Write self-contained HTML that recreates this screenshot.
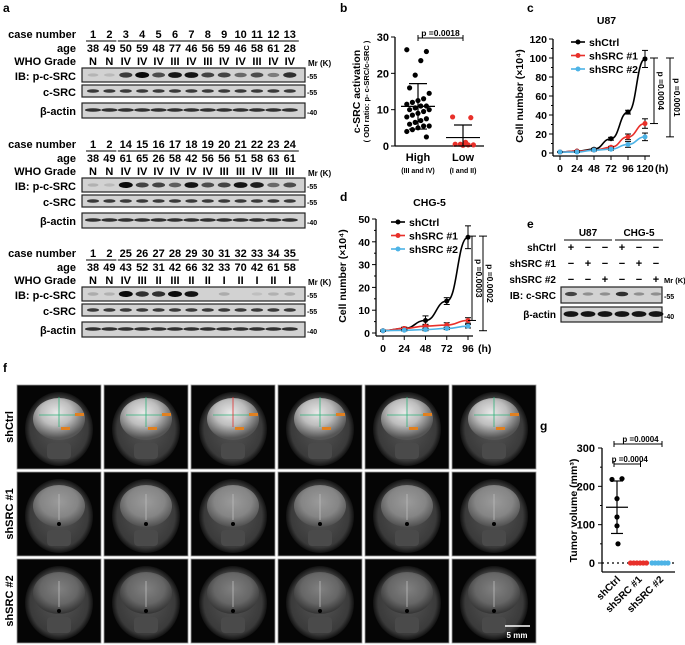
<!DOCTYPE html>
<html><head><meta charset="utf-8"><style>
html,body{margin:0;padding:0;background:#fff}
svg{display:block;font-family:"Liberation Sans",Arial,sans-serif}
text{font-weight:bold}
</style></head><body>
<svg id="fig" width="685" height="645" viewBox="0 0 685 645" xmlns="http://www.w3.org/2000/svg">
<defs>
<radialGradient id="brainHot" cx="0.45" cy="0.35" r="0.6"><stop offset="0" stop-color="#e8e8e8"/><stop offset="0.5" stop-color="#bdbdbd"/><stop offset="1" stop-color="#555"/></radialGradient>
<radialGradient id="brain1" cx="0.5" cy="0.4" r="0.6"><stop offset="0" stop-color="#9a9a9a"/><stop offset="0.6" stop-color="#858585"/><stop offset="1" stop-color="#505050"/></radialGradient>
<radialGradient id="brain2" cx="0.5" cy="0.4" r="0.6"><stop offset="0" stop-color="#808080"/><stop offset="0.6" stop-color="#666"/><stop offset="1" stop-color="#333"/></radialGradient>
<radialGradient id="head" cx="0.5" cy="0.5" r="0.5"><stop offset="0" stop-color="#555"/><stop offset="0.85" stop-color="#3a3a3a"/><stop offset="1" stop-color="#111"/></radialGradient>
</defs>
<g id="panelA"></g>
<g id="panelB"></g>
<g id="panelC"></g>
<g id="panelD"></g>
<g id="panelE"></g>
<g id="panelF"></g>
<g id="panelG"></g>
</svg>
<script>
const NS="http://www.w3.org/2000/svg";
function mk(parent,tag,attrs,txt){const e=document.createElementNS(NS,tag);for(const k in attrs)e.setAttribute(k,attrs[k]);if(txt!==undefined)e.textContent=txt;parent.appendChild(e);return e;}

// ---------- Panel A data ----------
const caseNums1=["1","2","3","4","5","6","7","8","9","10","11","12","13"];
const ages1=["38","49","50","59","48","77","46","56","59","46","58","61","28"];
const grades1=["N","N","IV","IV","IV","III","IV","III","IV","IV","III","IV","IV"];
const pSrc1=[0.1,0.08,0.75,1,0.65,0.95,0.95,0.7,0.7,0.5,0.65,0.4,0.8];
const caseNums2=["1","2","14","15","16","17","18","19","20","21","22","23","24"];
const ages2=["38","49","61","65","26","58","42","56","56","51","58","63","61"];
const grades2=["N","N","IV","IV","IV","IV","IV","IV","III","III","IV","III","III"];
const pSrc2=[0.12,0.08,1,0.7,0.7,0.55,0.95,0.65,0.7,0.95,0.9,0.5,0.65];
const caseNums3=["1","2","25","26","27","28","29","30","31","32","33","34","35"];
const ages3=["38","49","43","52","31","42","66","32","33","70","42","61","58"];
const grades3=["N","N","IV","III","II","III","II","II","I","II","I","II","I"];
const pSrc3=[0.15,0.12,1,0.8,0.8,1,0.95,0.02,0.15,0.02,0.05,0.12,0.15];

const A=document.getElementById('panelA');
mk(A,'text',{x:3,y:12,'font-size':12},'a');
function band(g,cx,cy,w,h,int){
  if(int<=0.03)return;
  const c=Math.round(200-190*int);
  const b=mk(g,'ellipse',{cx:cx,cy:cy,rx:w/2*(0.75+0.25*int),ry:h/2*(0.5+0.5*int),fill:`rgb(${c},${c},${c})`});
  
  
}
function blotBox(g,x,y,w,h,name){
  const r=mk(g,'rect',{x:x,y:y,width:w,height:h,fill:'#d2d2d2',stroke:'#222','stroke-width':1.2});
  
  
}
function blockA(y0,cases,ages,grades,pint){
  const g=mk(A,'g',{});
  
  
  const cx=i=>93+i*16.4;
  const fs=11;
  mk(g,'text',{x:76,y:y0+38,'text-anchor':'end','font-size':fs},'case number');
  mk(g,'text',{x:76,y:y0+52,'text-anchor':'end','font-size':fs},'age');
  mk(g,'text',{x:76,y:y0+65,'text-anchor':'end','font-size':fs},'WHO Grade');
  mk(g,'text',{x:76,y:y0+80,'text-anchor':'end','font-size':fs},'IB: p-c-SRC');
  mk(g,'text',{x:76,y:y0+96,'text-anchor':'end','font-size':fs},'c-SRC');
  mk(g,'text',{x:76,y:y0+115,'text-anchor':'end','font-size':fs},'β-actin');
  cases.forEach((c,i)=>{
    mk(g,'text',{x:cx(i),y:y0+38,'text-anchor':'middle','font-size':fs},c);
    mk(g,'text',{x:cx(i),y:y0+52,'text-anchor':'middle','font-size':fs},ages[i]);
    mk(g,'text',{x:cx(i),y:y0+65,'text-anchor':'middle','font-size':fs},grades[i]);
  });
  mk(g,'line',{x1:cx(0)-7,x2:cx(1)+7,y1:y0+41,y2:y0+41,stroke:'#000','stroke-width':1});
  mk(g,'line',{x1:cx(2)-8,x2:cx(12)+9,y1:y0+41,y2:y0+41,stroke:'#000','stroke-width':1});
  mk(g,'text',{x:308,y:y0+66,'font-size':8},'Mr (K)');
  blotBox(g,82,y0+68,223,14,'p-c-src-blot');
  blotBox(g,82,y0+85,223,12,'c-src-blot');
  blotBox(g,82,y0+103,223,15,'beta-actin-blot');
  cases.forEach((c,i)=>{
    band(g,cx(i),y0+75,14,6,pint[i]);
    band(g,cx(i),y0+91,13,4,0.75);
    band(g,cx(i),y0+110,17,4,0.8);
  });
  mk(g,'text',{x:307,y:y0+79,'font-size':7},'-55');
  mk(g,'text',{x:307,y:y0+95,'font-size':7},'-55');
  mk(g,'text',{x:307,y:y0+115,'font-size':7},'-40');
}
blockA(0,caseNums1,ages1,grades1,pSrc1);
blockA(110,caseNums2,ages2,grades2,pSrc2);
blockA(219,caseNums3,ages3,grades3,pSrc3);

// ---------- Panel B ----------
const bHigh=[26.5,26,23.5,19.5,16,14.5,13,12.5,12,11.5,11,11,10.5,10,10,9.5,9,8.5,8,7.5,7,6.5,6,5.5,5.5,5,4.5,4,2.5];
const bLow=[8,7.8,1,0.5,0.5,0.3,0.3,0.2];
const bTicks=[0,10,20,30];
const B=document.getElementById('panelB');
mk(B,'text',{x:340,y:12,'font-size':12},'b');
const bx0=395,by0=146,byTop=37;
const bY=v=>by0-(v/30)*(by0-byTop);
mk(B,'line',{x1:bx0,x2:bx0,y1:byTop,y2:by0,stroke:'#000','stroke-width':1.3});
mk(B,'line',{x1:bx0,x2:484,y1:by0,y2:by0,stroke:'#000','stroke-width':1.3});
bTicks.forEach(t=>{mk(B,'line',{x1:bx0-4,x2:bx0,y1:bY(t),y2:bY(t),stroke:'#000'});mk(B,'text',{x:bx0-6,y:bY(t)+4,'text-anchor':'end','font-size':11},t);});
mk(B,'text',{x:0,y:0,'font-size':10.5,'text-anchor':'middle',transform:`translate(360,${(by0+byTop)/2}) rotate(-90)`},'c-SRC activation');
mk(B,'text',{x:0,y:0,'font-size':7.5,'text-anchor':'middle',transform:`translate(369,${(by0+byTop)/2}) rotate(-90)`},'( ODI ratio: p- c-SRC/c-SRC )');
const bxHigh=418,bxLow=463;
function scatter(g,vals,cx,col,yfn,name,spread){
  vals.forEach((v,i)=>{
    const off=((i*7)%9-4)*spread;
    const c=mk(g,'circle',{cx:cx+off,cy:yfn(v),r:2.6,fill:col});
    
    
  });
}
function meanSd(vals){const m=vals.reduce((a,b)=>a+b,0)/vals.length;const sd=Math.sqrt(vals.reduce((a,b)=>a+(b-m)*(b-m),0)/(vals.length-1));return [m,sd];}
scatter(B,bHigh,bxHigh,'#000',bY,'high-grade-point',2.8);
scatter(B,bLow,bxLow,'#e8302a',bY,'low-grade-point',2.6);
[[bHigh,bxHigh],[bLow,bxLow]].forEach(([v,x])=>{const [m,s]=meanSd(v);
  mk(B,'line',{x1:x-17,x2:x+17,y1:bY(m),y2:bY(m),stroke:'#000','stroke-width':1.2});
  mk(B,'line',{x1:x,x2:x,y1:bY(Math.max(0,m-s)),y2:bY(m+s),stroke:'#000','stroke-width':1.2});
  mk(B,'line',{x1:x-9,x2:x+9,y1:bY(m+s),y2:bY(m+s),stroke:'#000','stroke-width':1.2});
  mk(B,'line',{x1:x-9,x2:x+9,y1:bY(Math.max(0,m-s)),y2:bY(Math.max(0,m-s)),stroke:'#000','stroke-width':1.2});});
mk(B,'line',{x1:bxHigh,x2:bxLow,y1:38,y2:38,stroke:'#000'});
mk(B,'line',{x1:bxHigh,x2:bxHigh,y1:35,y2:41,stroke:'#000'});
mk(B,'line',{x1:bxLow,x2:bxLow,y1:35,y2:41,stroke:'#000'});
mk(B,'text',{x:(bxHigh+bxLow)/2,y:36,'text-anchor':'middle','font-size':8.5},'p =0.0018');
mk(B,'text',{x:bxHigh,y:161,'text-anchor':'middle','font-size':11},'High');
mk(B,'text',{x:bxLow,y:161,'text-anchor':'middle','font-size':11},'Low');
mk(B,'text',{x:bxHigh,y:173,'text-anchor':'middle','font-size':7},'(III and IV)');
mk(B,'text',{x:bxLow,y:173,'text-anchor':'middle','font-size':7},'(I and II)');

// ---------- Growth curves ----------
const cHours=[0,24,48,72,96,120];
const cCtrl=[1,2,4,15,43,99];
const cSh1=[1,2,3,6,17,31];
const cSh2=[1,1,3,4,9,17];
const cCtrlErr=[0.5,0.5,1,1.5,2,9];
const cSh1Err=[0.3,0.5,0.8,1,3,5];
const cSh2Err=[0.3,0.5,0.8,1,3,4];
const cTicks=[0,20,40,60,80,100,120];
const dHours=[0,24,48,72,96];
const dCtrl=[1,2,5.5,14,42];
const dSh1=[1,2,3,3.5,5.5];
const dSh2=[1,1.2,1.5,2,3];
const dCtrlErr=[0.3,0.5,2,1.5,5];
const dSh1Err=[0.3,0.5,0.8,1,1.2];
const dSh2Err=[0.3,0.3,0.5,0.5,0.8];
const dTicks=[0,10,20,30,40,50];
const COLS=['#000','#e8302a','#4db3e6'];
const NAMES=['shCtrl','shSRC #1','shSRC #2'];

function growth(G,o){
  const X=h=>o.x0+(h/o.hmax)*(o.x1-o.x0);
  const Y=v=>o.y0-(v/o.vmax)*(o.y0-o.yTop);
  mk(G,'text',{x:o.lx,y:o.ly,'font-size':12},o.letter);
  mk(G,'text',{x:(o.x0+o.x1)/2+4,y:o.titleY,'text-anchor':'middle','font-size':10.5},o.title);
  mk(G,'line',{x1:o.x0-7,x2:o.x0-7,y1:o.yTop,y2:o.y0+3,stroke:'#000','stroke-width':1.3});
  mk(G,'line',{x1:o.x0-7,x2:o.x1+5,y1:o.y0+3,y2:o.y0+3,stroke:'#000','stroke-width':1.3});
  o.ticks.forEach(t=>{mk(G,'line',{x1:o.x0-11,x2:o.x0-7,y1:Y(t),y2:Y(t),stroke:'#000'});mk(G,'text',{x:o.x0-13,y:Y(t)+4,'text-anchor':'end','font-size':10.5},t);});
  for(let i=0;i<o.ticks.length-1;i++){const m=(o.ticks[i]+o.ticks[i+1])/2;mk(G,'line',{x1:o.x0-9,x2:o.x0-7,y1:Y(m),y2:Y(m),stroke:'#000'});}
  o.hours.forEach(h=>{mk(G,'line',{x1:X(h),x2:X(h),y1:o.y0+3,y2:o.y0+7,stroke:'#000'});mk(G,'text',{x:X(h),y:o.y0+19,'text-anchor':'middle','font-size':10.5},h);});
  mk(G,'text',{x:o.x1+10,y:o.y0+19,'font-size':10.5},'(h)');
  mk(G,'text',{x:0,y:0,'font-size':10.5,'text-anchor':'middle',transform:`translate(${o.x0-37},${(o.y0+o.yTop)/2}) rotate(-90)`},'Cell number (×10⁴)');
  o.series.forEach((s,k)=>{
    const pts=o.hours.map((h,i)=>[X(h),Y(s[i])]);
    let d='M'+pts[0].join(',');
    for(let i=1;i<pts.length;i++){const p0=pts[i-1],p1=pts[i];const mx=(p0[0]+p1[0])/2;d+=` C${mx},${p0[1]} ${mx},${p1[1]} ${p1[0]},${p1[1]}`;}
    const line=mk(G,'path',{d:d,fill:'none',stroke:COLS[k],'stroke-width':1.6});
    
    
    o.hours.forEach((h,i)=>{
      const e=o.errs[k][i];
      mk(G,'line',{x1:X(h),x2:X(h),y1:Y(s[i]-e),y2:Y(s[i]+e),stroke:'#000'});
      mk(G,'line',{x1:X(h)-3,x2:X(h)+3,y1:Y(s[i]+e),y2:Y(s[i]+e),stroke:'#000'});
      mk(G,'line',{x1:X(h)-3,x2:X(h)+3,y1:Y(s[i]-e),y2:Y(s[i]-e),stroke:'#000'});
      const c=mk(G,'circle',{cx:X(h),cy:Y(s[i]),r:2.5,fill:COLS[k]});
      
      
    });
  });
  NAMES.forEach((n,k)=>{
    const ly=o.legY+k*13.5;
    mk(G,'line',{x1:o.legX,x2:o.legX+14,y1:ly,y2:ly,stroke:COLS[k],'stroke-width':1.6});
    mk(G,'circle',{cx:o.legX+7,cy:ly,r:2.5,fill:COLS[k]});
    const t=mk(G,'text',{x:o.legX+18,y:ly+4,'font-size':10.5},n);
    
    
  });
  o.pbars.forEach(pb=>{
    mk(G,'line',{x1:pb.x,x2:pb.x,y1:Y(pb.a),y2:Y(pb.b),stroke:'#000'});
    mk(G,'line',{x1:pb.x-4,x2:pb.x+4,y1:Y(pb.a),y2:Y(pb.a),stroke:'#000'});
    mk(G,'line',{x1:pb.x-4,x2:pb.x+4,y1:Y(pb.b),y2:Y(pb.b),stroke:'#000'});
    mk(G,'text',{x:0,y:0,'font-size':8.5,'text-anchor':'middle',transform:`translate(${pb.x+4},${(Y(pb.a)+Y(pb.b))/2}) rotate(90)`},pb.t);
  });
}
growth(document.getElementById('panelC'),{letter:'c',lx:527,ly:12,title:'U87',titleY:24,x0:560,x1:645,y0:153,yTop:39,hmax:120,vmax:120,hours:cHours,ticks:cTicks,series:[cCtrl,cSh1,cSh2],errs:[cCtrlErr,cSh1Err,cSh2Err],legX:571,legY:42,
  pbars:[{x:654,a:31,b:100,t:'p =0.0004'},{x:670,a:17,b:100,t:'p =0.0001'}]});
growth(document.getElementById('panelD'),{letter:'d',lx:340,ly:201,title:'CHG-5',titleY:206,x0:383,x1:468,y0:333,yTop:219,hmax:96,vmax:50,hours:dHours,ticks:dTicks,series:[dCtrl,dSh1,dSh2],errs:[dCtrlErr,dSh1Err,dSh2Err],legX:391,legY:222,
  pbars:[{x:472,a:5.5,b:42.5,t:'p =0.0003'},{x:483,a:1,b:42.5,t:'p =0.0002'}]});

// ---------- Panel E ----------
const eCtrl=['+','−','−','+','−','−'];
const eSh1=['−','+','−','−','+','−'];
const eSh2=['−','−','+','−','−','+'];
const eSrc=[0.7,0.3,0.3,0.8,0.3,0.3];
const E=document.getElementById('panelE');
mk(E,'text',{x:527,y:228,'font-size':12},'e');
const ex=i=>571+i*17;
mk(E,'text',{x:(ex(0)+ex(2))/2,y:236,'text-anchor':'middle','font-size':10},'U87');
mk(E,'text',{x:(ex(3)+ex(5))/2,y:236,'text-anchor':'middle','font-size':10},'CHG-5');
mk(E,'line',{x1:ex(0)-7,x2:ex(2)+7,y1:240,y2:240,stroke:'#000'});
mk(E,'line',{x1:ex(3)-7,x2:ex(5)+7,y1:240,y2:240,stroke:'#000'});
[['shCtrl',eCtrl,251],['shSRC #1',eSh1,267],['shSRC #2',eSh2,283]].forEach(([n,arr,y])=>{
  mk(E,'text',{x:556,y:y,'text-anchor':'end','font-size':10},n);
  arr.forEach((s,i)=>mk(E,'text',{x:ex(i),y:y,'text-anchor':'middle','font-size':11},s));
});
mk(E,'text',{x:664,y:283,'font-size':7.5},'Mr (K)');
mk(E,'text',{x:556,y:299,'text-anchor':'end','font-size':10},'IB: c-SRC');
mk(E,'text',{x:556,y:318,'text-anchor':'end','font-size':10},'β-actin');
blotBox(E,561,287,101,16,'c-src-knockdown-blot');
blotBox(E,561,307,101,15,'beta-actin-e-blot');
eSrc.forEach((v,i)=>{band(E,ex(i),294,13,5,v);band(E,ex(i),314,15,6,0.95);});
mk(E,'text',{x:664,y:299,'font-size':7},'-55');
mk(E,'text',{x:664,y:319,'font-size':7},'-40');

// ---------- Panel F ----------
const F=document.getElementById('panelF');
mk(F,'text',{x:3,y:372,'font-size':12},'f');
const rowLabels=['shCtrl','shSRC #1','shSRC #2'];
const rowY=[385,472,559];
const grads=['url(#brainHot)','url(#brain1)','url(#brain2)'];
rowLabels.forEach((l,r)=>{
  mk(F,'text',{x:0,y:0,'font-size':11,'text-anchor':'middle',transform:`translate(13,${rowY[r]+42}) rotate(-90)`},l);
  for(let c=0;c<6;c++){
    const x=17+c*87,y=rowY[r];
    const g=mk(F,'g',{});
    
    
    mk(g,'rect',{x:x,y:y,width:84,height:84,fill:'#050505',stroke:'#999','stroke-width':0.8});
    mk(g,'ellipse',{cx:x+42,cy:y+44,rx:34,ry:37,fill:'url(#head)'});
    mk(g,'ellipse',{cx:x+42,cy:y+34,rx:26,ry:21,fill:grads[r]});
    mk(g,'rect',{x:x+30,y:y+58,width:24,height:16,fill:'#4a4a4a',rx:4});
    if(r===0){
      mk(g,'line',{x1:x+22,x2:x+62,y1:y+30,y2:y+30,stroke:'#2fb27a','stroke-width':0.8});
      mk(g,'line',{x1:x+42,x2:x+42,y1:y+12,y2:y+42,stroke:c===2?'#e03030':'#2fb27a','stroke-width':0.8});
      mk(g,'rect',{x:x+58,y:y+28,width:9,height:3,fill:'#e08020'});
      mk(g,'rect',{x:x+44,y:y+42,width:9,height:3,fill:'#e08020'});
    } else {
      mk(g,'line',{x1:x+42,x2:x+42,y1:y+22,y2:y+48,stroke:'#bbb','stroke-width':0.8});
      mk(g,'circle',{cx:x+42,cy:y+52,r:2,fill:'#000'});
    }
  }
});
mk(F,'line',{x1:505,x2:530,y1:626,y2:626,stroke:'#fff','stroke-width':1.5});
mk(F,'text',{x:517,y:638,'text-anchor':'middle','font-size':8,fill:'#fff'},'5 mm');

// ---------- Panel G ----------
const gCats=['shCtrl','shSRC #1','shSRC #2'];
const gCtrl=[218,220,168,120,97,50];
const gSh1=[0,0,0,0,0,0];
const gSh2=[0,0,0,0,0,0];
const gTicks=[0,100,200,300];
const G=document.getElementById('panelG');
mk(G,'text',{x:540,y:430,'font-size':12},'g');
const gx0=602,gy0=563,gyTop=448;
const gY=v=>gy0-(v/300)*(gy0-gyTop);
const gX=i=>617+i*21.5;
mk(G,'line',{x1:gx0,x2:gx0,y1:gyTop,y2:572,stroke:'#000','stroke-width':1.3});
mk(G,'line',{x1:gx0,x2:675,y1:572,y2:572,stroke:'#000','stroke-width':1.3});
gTicks.forEach(t=>{mk(G,'line',{x1:gx0-4,x2:gx0,y1:gY(t),y2:gY(t),stroke:'#000'});mk(G,'text',{x:gx0-7,y:gY(t)+4,'text-anchor':'end','font-size':11},t);});
[50,150,250].forEach(t=>mk(G,'line',{x1:gx0-2,x2:gx0,y1:gY(t),y2:gY(t),stroke:'#000'}));
mk(G,'line',{x1:gx0,x2:675,y1:gY(0),y2:gY(0),stroke:'#000','stroke-width':1.2,'stroke-dasharray':'2,3'});
mk(G,'text',{x:0,y:0,'font-size':10.5,'text-anchor':'middle',transform:`translate(577,${(gy0+gyTop)/2+5}) rotate(-90)`},'Tumor volume (mm³)');
const gOff=[-5,5,0,0,0,1];
gCtrl.forEach((v,i)=>{const c=mk(G,'circle',{cx:gX(0)+gOff[i],cy:gY(v),r:2.6,fill:'#000'});
  
  });
[[gSh1,1,'#e8302a'],[gSh2,2,'#4db3e6']].forEach(([arr,k,col])=>{
  arr.forEach((v,i)=>{const c=mk(G,'circle',{cx:gX(k)-8+i*3.2,cy:gY(v),r:2.6,fill:col});
    
    });
});
{const [m,s]=meanSd(gCtrl);const x=gX(0);
 mk(G,'line',{x1:x-11,x2:x+11,y1:gY(m),y2:gY(m),stroke:'#000','stroke-width':1.2});
 mk(G,'line',{x1:x,x2:x,y1:gY(m-s),y2:gY(m+s),stroke:'#000','stroke-width':1.2});
 mk(G,'line',{x1:x-6,x2:x+6,y1:gY(m+s),y2:gY(m+s),stroke:'#000','stroke-width':1.2});
 mk(G,'line',{x1:x-6,x2:x+6,y1:gY(m-s),y2:gY(m-s),stroke:'#000','stroke-width':1.2});}
[[1,464,'p =0.0004'],[2,444,'p =0.0004']].forEach(([k,y,t])=>{
  mk(G,'line',{x1:gX(0)-3,x2:gX(k)+2,y1:y,y2:y,stroke:'#000'});
  mk(G,'line',{x1:gX(0)-3,x2:gX(0)-3,y1:y-3,y2:y+3,stroke:'#000'});
  mk(G,'line',{x1:gX(k)+2,x2:gX(k)+2,y1:y-3,y2:y+3,stroke:'#000'});
  mk(G,'text',{x:(gX(0)+gX(k))/2+2,y:y-2,'text-anchor':'middle','font-size':8},t);
});
gCats.forEach((c,i)=>{const t=mk(G,'text',{x:0,y:0,'font-size':10,'text-anchor':'end',transform:`translate(${gX(i)+4},${580}) rotate(-45)`},c);
  
  });
</script>
</body></html>
